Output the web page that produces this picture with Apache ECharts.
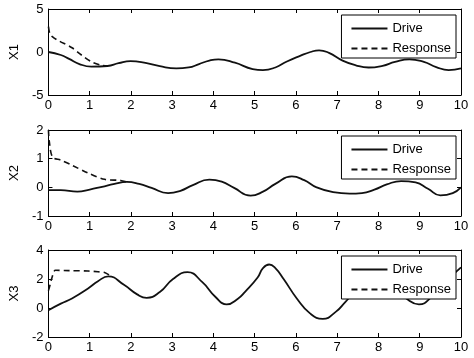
<!DOCTYPE html>
<html>
<head>
<meta charset="utf-8">
<script src="https://cdn.jsdelivr.net/npm/echarts@6/dist/echarts.min.js"></script>
<style>
html,body{margin:0;padding:0;background:#fff;}
#c{width:474px;height:358px;}
</style>
</head>
<body>
<div id="c"></div>
<script>
// ---- data ----
const xTicks = [0,1,2,3,4,5,6,7,8,9,10];

const tDrive1 = [0,0.3,0.5,0.75,1.04,1.43,1.7,1.99,2.38,2.7,3.1,3.4,3.65,3.9,4.12,4.52,4.95,5.2,5.5,5.78,6.1,6.35,6.56,6.8,7.13,7.45,7.76,8.1,8.4,8.75,9.1,9.4,9.7,10];
const x1Drive = [0,-0.35,-0.8,-1.4,-1.7,-1.63,-1.3,-1.05,-1.3,-1.65,-1.9,-1.8,-1.4,-1.0,-0.85,-1.24,-1.98,-2.1,-1.8,-1.1,-0.45,0.0,0.2,-0.1,-1.0,-1.55,-1.8,-1.6,-1.15,-0.85,-1.15,-1.75,-2.1,-1.9];
const tResp1 = [0,0.03,0.1,0.25,0.57,0.8,1.04,1.28,1.43];
const x1Resp = [2.95,2.2,1.75,1.3,0.5,-0.35,-1.13,-1.55,-1.63];

const tDrive2 = [0,0.3,0.7,1.0,1.3,1.6,1.9,2.2,2.5,2.9,3.2,3.5,3.9,4.2,4.5,4.9,5.2,5.5,5.9,6.2,6.5,6.9,7.3,7.6,7.9,8.2,8.55,8.9,9.2,9.5,9.8,10];
const x2Drive = [-0.1,-0.1,-0.15,-0.08,0.02,0.12,0.19,0.12,-0.02,-0.2,-0.12,0.08,0.27,0.2,-0.02,-0.29,-0.15,0.12,0.38,0.25,0.0,-0.17,-0.22,-0.2,-0.08,0.1,0.22,0.17,-0.05,-0.28,-0.2,0.0];
const tResp2 = [0,0.02,0.1,0.3,0.57,0.96,1.36,1.75,1.9];
const x2Resp = [2.0,1.6,1.05,0.95,0.77,0.5,0.28,0.24,0.19];

const tDrive3 = [0,0.3,0.57,0.96,1.2,1.45,1.83,2.15,2.38,2.7,3.02,3.37,3.73,4.05,4.32,4.6,4.76,5.07,5.2,5.35,5.5,5.7,6.02,6.34,6.65,6.97,7.2,7.5,7.9,8.3,8.7,8.98,9.3,9.7,10];
const x3Drive = [-0.15,0.3,0.66,1.35,1.85,2.18,1.6,0.94,0.7,1.1,2.0,2.47,1.78,0.76,0.25,0.66,1.1,2.1,2.75,3.0,2.75,2.0,0.66,-0.37,-0.75,-0.25,0.43,1.3,2.1,1.6,0.6,0.25,0.8,2.0,2.8];
const tResp3 = [0,0.04,0.09,0.17,0.5,0.96,1.2,1.36,1.51];
const x3Resp = [1.2,1.6,2.14,2.6,2.58,2.55,2.5,2.45,2.2];

const yNames = ['X1','X2','X3'];
const yMin = [-5,-1,-2];
const yMax = [5,2,4];
const yStep = [5,1,2];

// ---- chart ----
const pairs = (t, v) => t.map((x, i) => [x, v[i]]);
const panels = [
  {drive: pairs(tDrive1, x1Drive), resp: pairs(tResp1, x1Resp)},
  {drive: pairs(tDrive2, x2Drive), resp: pairs(tResp2, x2Resp)},
  {drive: pairs(tDrive3, x3Drive), resp: pairs(tResp3, x3Resp)}
];
const gridTops = [9, 130, 250];
const gridHeights = [86, 86, 87];
const FONT = 'Liberation Sans, Arial, sans-serif';
const INK = '#111';

const grid = [], xAxis = [], yAxis = [], series = [], legend = [];
panels.forEach((p, i) => {
  grid.push({left: 39.5, width: 421.5, top: gridTops[i], height: gridHeights[i], show: false});
  const axLine = {show: true, onZero: false, lineStyle: {color: '#000', width: 1}};
  const tick = {show: true, inside: true, length: 4, lineStyle: {color: '#000'}};
  xAxis.push({gridIndex: i, type: 'value', min: 0, max: 10, interval: 1, position: 'bottom',
    axisLine: axLine, axisTick: tick, splitLine: {show: false},
    axisLabel: {color: '#000', fontSize: 13, fontFamily: FONT, margin: 4,
      formatter: v => String(xTicks[Math.round(v)])}});
  xAxis.push({gridIndex: i, type: 'value', min: 0, max: 10, interval: 1, position: 'top',
    axisLine: axLine, axisTick: tick, splitLine: {show: false}, axisLabel: {show: false}});
  yAxis.push({gridIndex: i, type: 'value', min: yMin[i], max: yMax[i], interval: yStep[i], position: 'left',
    axisLine: axLine, axisTick: tick, splitLine: {show: false},
    axisLabel: {color: '#000', fontSize: 13, fontFamily: FONT, margin: 5},
    name: yNames[i], nameLocation: 'middle', nameGap: 24, nameRotate: 90,
    nameTextStyle: {color: '#000', fontSize: 13, fontFamily: FONT}});
  yAxis.push({gridIndex: i, type: 'value', min: yMin[i], max: yMax[i], interval: yStep[i], position: 'right',
    axisLine: axLine, axisTick: tick, splitLine: {show: false}, axisLabel: {show: false}});
  series.push({name: 'Drive', type: 'line', xAxisIndex: 2*i, yAxisIndex: 2*i, data: p.drive,
    symbol: 'none', smooth: 0.5, itemStyle: {color: INK},
    lineStyle: {color: INK, width: 1.8}, z: 2});
  series.push({name: 'Response', type: 'line', xAxisIndex: 2*i, yAxisIndex: 2*i, data: p.resp,
    symbol: 'none', smooth: 0.3, itemStyle: {color: INK},
    lineStyle: {color: INK, width: 1.6, type: [6, 4]}, z: 3});
  legend.push({data: ['Drive', 'Response'], orient: 'vertical', right: 18, top: gridTops[i] + 6,
    backgroundColor: '#fff', borderColor: '#000', borderWidth: 1, borderRadius: 0,
    padding: [7, 5, 3, 9], itemWidth: 36, itemHeight: 12, itemGap: 7, selectedMode: false,
    itemStyle: {opacity: 0},
    textStyle: {color: '#000', fontSize: 13, fontFamily: FONT}, z: 10});
});

const chart = echarts.init(document.getElementById('c'), null, {renderer: 'canvas'});
chart.setOption({animation: false, backgroundColor: '#fff', grid, xAxis, yAxis, series, legend});
</script>
</body>
</html>
